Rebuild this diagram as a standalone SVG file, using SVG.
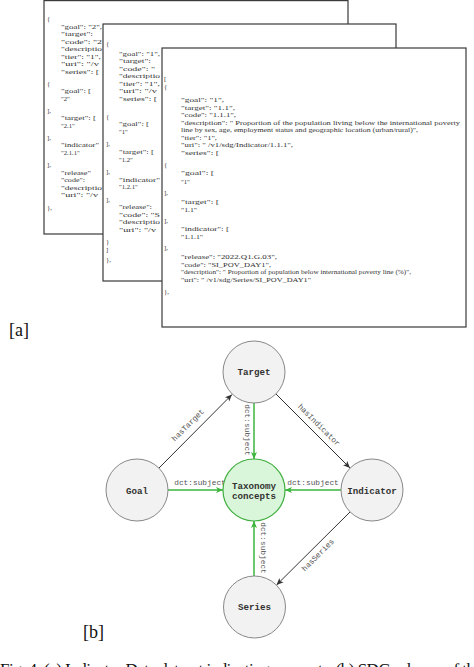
<svg xmlns="http://www.w3.org/2000/svg" width="474" height="667" viewBox="0 0 474 667">
<style>
.doc{fill:#fff;stroke:#3a3a3a;stroke-width:1.2}
.j{font-family:"Liberation Serif",serif;font-size:6.7px;fill:#333}
.nd{fill:#f2f2f2;stroke:#888;stroke-width:1}
.tx{fill:#daf6da;stroke:#3fae3f;stroke-width:1.2}
.nl{font-family:"Liberation Mono","DejaVu Sans Mono",monospace;font-size:9.2px;font-weight:bold;fill:#333;text-anchor:middle}
.el{font-family:"Liberation Mono","DejaVu Sans Mono",monospace;font-size:7.8px;fill:#555;text-anchor:middle}
.eb{stroke:#333;stroke-width:1;fill:none}
.eg{stroke:#3cb43c;stroke-width:1.5;fill:none}
.lab{font-family:"Liberation Serif",serif;font-size:18px;fill:#111}
</style>
<defs>
<clipPath id="c1"><rect x="44" y="0" width="59" height="234"/></clipPath>
<clipPath id="c2"><rect x="103" y="24" width="59" height="257"/></clipPath>
<clipPath id="c3"><rect x="162" y="48" width="304" height="279"/></clipPath>
<marker id="ab" markerUnits="userSpaceOnUse" markerWidth="8" markerHeight="8" refX="7" refY="4" orient="auto"><path d="M0,1 L7,4 L0,7 L1.8,4 z" fill="#333"/></marker>
<marker id="ag" markerUnits="userSpaceOnUse" markerWidth="8" markerHeight="8" refX="7" refY="4" orient="auto"><path d="M0,1 L7,4 L0,7 L1.8,4 z" fill="#3cb43c"/></marker>
</defs>

<g id="doc-back">
<rect class="doc" x="44" y="0.6" width="304" height="233.4"/>
<g class="j" clip-path="url(#c1)">
<text x="47" y="20.5">{</text>
<text x="61" y="28.5" textLength="41" lengthAdjust="spacingAndGlyphs">"goal": "2",</text>
<text x="61" y="36" textLength="32" lengthAdjust="spacingAndGlyphs">"target":</text>
<text x="61" y="43.5" textLength="41" lengthAdjust="spacingAndGlyphs">"code": "2</text>
<text x="61" y="51" textLength="41" lengthAdjust="spacingAndGlyphs">"descriptio</text>
<text x="61" y="58.5" textLength="40" lengthAdjust="spacingAndGlyphs">"tier": "1",</text>
<text x="61" y="66" textLength="38" lengthAdjust="spacingAndGlyphs">"uri": "/v</text>
<text x="61" y="73.5" textLength="38" lengthAdjust="spacingAndGlyphs">"series": [</text>
<text x="47" y="85.5">{</text>
<text x="61" y="93" textLength="30" lengthAdjust="spacingAndGlyphs">"goal": [</text>
<text x="61" y="100.5">"2"</text>
<text x="47" y="112.5">],</text>
<text x="61" y="120" textLength="35" lengthAdjust="spacingAndGlyphs">"target": [</text>
<text x="61" y="127.5">"2.1"</text>
<text x="47" y="139.5">],</text>
<text x="61" y="147" textLength="38" lengthAdjust="spacingAndGlyphs">"indicator"</text>
<text x="61" y="154.5">"2.1.1"</text>
<text x="47" y="167">],</text>
<text x="61" y="174.5" textLength="30" lengthAdjust="spacingAndGlyphs">"release"</text>
<text x="61" y="182" textLength="24" lengthAdjust="spacingAndGlyphs">"code":</text>
<text x="61" y="189.5" textLength="41" lengthAdjust="spacingAndGlyphs">"descriptio</text>
<text x="61" y="197" textLength="37" lengthAdjust="spacingAndGlyphs">"uri": "/v</text>
<text x="47" y="209.5">},</text>
</g>
</g>

<g id="doc-middle">
<rect class="doc" x="103" y="24" width="293" height="257"/>
<g class="j" clip-path="url(#c2)">
<text x="106" y="45.5">{</text>
<text x="119" y="55.5" textLength="41" lengthAdjust="spacingAndGlyphs">"goal": "1",</text>
<text x="119" y="63" textLength="32" lengthAdjust="spacingAndGlyphs">"target":</text>
<text x="119" y="70.5" textLength="36" lengthAdjust="spacingAndGlyphs">"code": "</text>
<text x="119" y="78" textLength="41" lengthAdjust="spacingAndGlyphs">"descriptio</text>
<text x="119" y="85.5" textLength="41" lengthAdjust="spacingAndGlyphs">"tier": "1",</text>
<text x="119" y="93" textLength="38" lengthAdjust="spacingAndGlyphs">"uri": "/v</text>
<text x="119" y="100.5" textLength="38" lengthAdjust="spacingAndGlyphs">"series": [</text>
<text x="106" y="118.5">{</text>
<text x="119" y="126" textLength="30" lengthAdjust="spacingAndGlyphs">"goal": [</text>
<text x="119" y="133.5">"1"</text>
<text x="106" y="145.5">],</text>
<text x="119" y="154" textLength="35" lengthAdjust="spacingAndGlyphs">"target": [</text>
<text x="119" y="161.5">"1.2"</text>
<text x="106" y="174">],</text>
<text x="119" y="181.5" textLength="41" lengthAdjust="spacingAndGlyphs">"indicator"</text>
<text x="119" y="189">"1.2.1"</text>
<text x="106" y="201.5">],</text>
<text x="119" y="209" textLength="33" lengthAdjust="spacingAndGlyphs">"release":</text>
<text x="119" y="216.5" textLength="41" lengthAdjust="spacingAndGlyphs">"code": "S</text>
<text x="119" y="224" textLength="41" lengthAdjust="spacingAndGlyphs">"descriptio</text>
<text x="119" y="231.5" textLength="37" lengthAdjust="spacingAndGlyphs">"uri": "/v</text>
<text x="106" y="244">}</text>
<text x="106" y="252">]</text>
<text x="106" y="261.5">},</text>
</g>
</g>

<g id="doc-front">
<rect class="doc" x="162" y="48" width="304" height="279"/>
<g class="j" clip-path="url(#c3)">
<text x="164" y="80.5">[</text>
<text x="164" y="88.5">{</text>
<text x="181" y="102" textLength="43" lengthAdjust="spacingAndGlyphs">"goal": "1",</text>
<text x="181" y="109.5" textLength="54" lengthAdjust="spacingAndGlyphs">"target": "1.1",</text>
<text x="181" y="117" textLength="55" lengthAdjust="spacingAndGlyphs">"code": "1.1.1",</text>
<text x="181" y="124.5" textLength="279" lengthAdjust="spacingAndGlyphs">"description": " Proportion of the population living below the international poverty</text>
<text x="181" y="132" textLength="237" lengthAdjust="spacingAndGlyphs">line by sex, age, employment status and geographic location (urban/rural)",</text>
<text x="181" y="139.5" textLength="36" lengthAdjust="spacingAndGlyphs">"tier": "1",</text>
<text x="181" y="147" textLength="112" lengthAdjust="spacingAndGlyphs">"uri": " /v1/sdg/Indicator/1.1.1",</text>
<text x="181" y="154.5" textLength="38" lengthAdjust="spacingAndGlyphs">"series": [</text>
<text x="164" y="167">{</text>
<text x="181" y="175" textLength="33" lengthAdjust="spacingAndGlyphs">"goal": [</text>
<text x="181" y="184">"1"</text>
<text x="164" y="195">],</text>
<text x="181" y="204" textLength="38" lengthAdjust="spacingAndGlyphs">"target": [</text>
<text x="181" y="211.5" textLength="16" lengthAdjust="spacingAndGlyphs">"1.1"</text>
<text x="164" y="223">],</text>
<text x="181" y="231" textLength="48" lengthAdjust="spacingAndGlyphs">"indicator": [</text>
<text x="181" y="239" textLength="22" lengthAdjust="spacingAndGlyphs">"1.1.1"</text>
<text x="164" y="250">],</text>
<text x="181" y="259" textLength="96" lengthAdjust="spacingAndGlyphs">"release": "2022.Q1.G.03",</text>
<text x="181" y="266.5" textLength="90" lengthAdjust="spacingAndGlyphs">"code": "SI_POV_DAY1",</text>
<text x="181" y="274" textLength="230" lengthAdjust="spacingAndGlyphs">"description": " Proportion of population below international poverty line (%)",</text>
<text x="181" y="281.5" textLength="130" lengthAdjust="spacingAndGlyphs">"uri": " /v1/sdg/Series/SI_POV_DAY1"</text>
<text x="164" y="294">},</text>
</g>
</g>

<text id="label-a" class="lab" x="9" y="336">[a]</text>

<g id="connectors">
<line class="eb" x1="159" y1="468" x2="232" y2="394.5" marker-end="url(#ab)"/>
<line class="eb" x1="276" y1="394" x2="350" y2="468" marker-end="url(#ab)"/>
<line class="eb" x1="350" y1="512" x2="276.5" y2="585" marker-end="url(#ab)"/>
<line class="eg" x1="254" y1="403" x2="254" y2="459" marker-end="url(#ag)"/>
<line class="eg" x1="168" y1="490" x2="223" y2="490" marker-end="url(#ag)"/>
<line class="eg" x1="341" y1="490" x2="285" y2="490" marker-end="url(#ag)"/>
<line class="eg" x1="254" y1="576" x2="254" y2="521" marker-end="url(#ag)"/>
<text class="el" transform="translate(188,425) rotate(-45)" y="2.5">hasTarget</text>
<text class="el" transform="translate(319,425) rotate(45)" y="2.5">hasIndicator</text>
<text class="el" transform="translate(318,555) rotate(-45)" y="2.5">hasSeries</text>
<text class="el" transform="translate(247,430) rotate(90)" y="2.5">dct:subject</text>
<text class="el" transform="translate(263,548) rotate(90)" y="2.5">dct:subject</text>
<text class="el" x="200" y="484.5">dct:subject</text>
<text class="el" x="313" y="484.5">dct:subject</text>
</g>

<g id="node-target"><circle class="nd" cx="254" cy="372" r="31"/><text class="nl" x="254" y="375">Target</text></g>
<g id="node-goal"><circle class="nd" cx="137" cy="490" r="31"/><text class="nl" x="137" y="494">Goal</text></g>
<g id="node-taxonomy"><circle class="tx" cx="254" cy="490" r="31"/><text class="nl" x="254" y="489">Taxonomy</text><text class="nl" x="254" y="499">concepts</text></g>
<g id="node-indicator"><circle class="nd" cx="372" cy="490" r="31"/><text class="nl" x="372" y="494">Indicator</text></g>
<g id="node-series"><circle class="nd" cx="254.5" cy="607" r="31"/><text class="nl" x="254.5" y="610">Series</text></g>

<text id="label-b" class="lab" x="83" y="638">[b]</text>
<text id="caption" x="0" y="675" textLength="482" lengthAdjust="spacing" style="font-family:'Liberation Serif',serif;font-size:17px;fill:#111">Fig. 4.  (a) Indicator Data dataset indicating concepts. (b) SDG schema of the</text>
</svg>
